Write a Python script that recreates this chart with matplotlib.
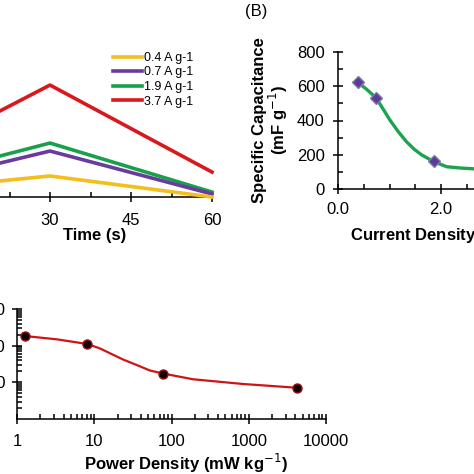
import matplotlib
matplotlib.use("Agg")
import matplotlib.pyplot as plt
from matplotlib.ticker import MultipleLocator, LogLocator, NullFormatter, FixedLocator, NullLocator

plt.rcParams['font.family'] = ['Liberation Sans', 'DejaVu Sans']
plt.rcParams['axes.linewidth'] = 1.1

# ---------------- data ----------------
# Panel A: galvanostatic charge/discharge
time_s = [0, 30, 60]
gcd_labels = ['0.4 A g-1', '0.7 A g-1', '1.9 A g-1', '3.7 A g-1']
v_04 = [0.034, 0.145, 0.0]
v_07 = [0.048, 0.317, 0.021]
v_19 = [0.083, 0.372, 0.034]
v_37 = [0.193, 0.772, 0.172]
gcd_colors = ['#F2BF1D', '#6A3B9E', '#18A04C', '#D9181E']

# Panel B: specific capacitance vs current density
cd_points = [0.38, 0.74, 1.86, 3.7]
cap_points = [624, 532, 165, 112]
cd_curve = [0.38, 0.56, 0.74, 0.88, 1.01, 1.17, 1.33, 1.48, 1.63, 1.86, 2.11, 2.40, 2.63, 3.00, 3.70]
cap_curve = [624, 581, 532, 465, 402, 335, 276, 232, 198, 160, 130, 122, 118, 114, 112]

# Panel C: Ragone plot
pd_points = [1.27, 8.13, 77.6, 4250]
ed_points = [183, 111, 17.4, 7.1]
pd_curve = [1.27, 3.27, 8.13, 11.9, 16.0, 23.6, 35.4, 52.7, 77.6, 191, 851, 4250]
ed_curve = [183, 149, 111, 83.7, 62, 41.9, 29.7, 21.0, 17.4, 12.1, 9.0, 7.1]

W = H = 474.0
fig = plt.figure(figsize=(4.74, 4.74), dpi=100)

def box(l, r, t, b):
    return [l / W, 1 - b / H, (r - l) / W, (b - t) / H]

def style(ax):
    for s in ('top', 'right'):
        ax.spines[s].set_visible(False)
    ax.tick_params(which='major', direction='inout', length=7, width=1.1, labelsize=12)
    ax.tick_params(which='minor', direction='in', length=3.5, width=1.1)

# ---------------- Panel A ----------------
axA = fig.add_axes(box(-112, 212, 52, 197))
style(axA)
series = [v_04, v_07, v_19, v_37]
zs = [5, 4, 3, 2]
handles = []
for vals, lab, c, z in zip(series, gcd_labels, gcd_colors, zs):
    h, = axA.plot(time_s, vals, color=c, lw=2.6, label=lab, zorder=z, clip_on=False)
    handles.append(h)
axA.set_xlim(0, 60)
axA.set_ylim(0, 1.0)
axA.xaxis.set_major_locator(FixedLocator([30, 45, 60]))
axA.xaxis.set_minor_locator(FixedLocator([22.5, 37.5, 52.5]))
axA.tick_params(axis='x', which='major', pad=8)
axA.tick_params(axis='y', labelleft=False)
axA.yaxis.set_major_locator(NullLocator())
axA.set_xlabel('Time (s)', fontsize=12, fontweight='bold')
axA.xaxis.set_label_coords(0.639, -0.214)
leg = axA.legend(handles=handles, loc='upper left', bbox_to_anchor=(113 / W, 1 - 52 / H),
                 bbox_transform=fig.transFigure, frameon=False, fontsize=9,
                 handlelength=2.3, handletextpad=0.2, labelspacing=0.2,
                 borderpad=0, borderaxespad=0)

# ---------------- Panel B ----------------
axB = fig.add_axes(box(338, 544, 52, 189))
style(axB)
axB.plot(cd_curve, cap_curve, color='#1BA34F', lw=2.4, zorder=2)
axB.plot(cd_points, cap_points, linestyle='none', marker='D', markersize=6.5,
         markerfacecolor='#5E3A99', markeredgecolor='#7C7CA6', markeredgewidth=1.0, zorder=3)
axB.set_xlim(0, 4.0)
axB.set_ylim(0, 800)
axB.xaxis.set_major_locator(FixedLocator([0.0, 2.0]))
axB.xaxis.set_minor_locator(MultipleLocator(0.5))
axB.yaxis.set_major_locator(MultipleLocator(200))
axB.yaxis.set_minor_locator(MultipleLocator(100))
axB.xaxis.set_major_formatter(matplotlib.ticker.FormatStrFormatter('%.1f'))
axB.tick_params(axis='both', which='major', pad=6)
axB.set_ylabel('Specific Capacitance\n(mF g$^{-1}$)', fontsize=12, fontweight='bold',
               linespacing=1.0)
axB.yaxis.label.set_va('center')
axB.yaxis.set_label_coords((271 - 338) / 206, 0.5)
axB.set_xlabel('Current Density (A g$^{-1}$)', fontsize=12, fontweight='bold')
axB.xaxis.label.set_ha('left')
axB.xaxis.set_label_coords((350 - 338) / 206, -0.25)

fig.text(245 / W, 1 - 4 / H, '(B)', fontsize=12, ha='left', va='top')

# ---------------- Panel C ----------------
axC = fig.add_axes(box(17, 326, 309, 419))
style(axC)
axC.set_xscale('log')
axC.set_yscale('log')
axC.plot(pd_curve, ed_curve, color='#D01414', lw=1.6, zorder=2)
axC.plot(pd_points, ed_points, linestyle='none', marker='o', markersize=6.5,
         markerfacecolor='#0A0000', markeredgecolor='#A01010', markeredgewidth=1.0, zorder=3)
axC.set_xlim(1, 10000)
axC.set_ylim(1, 1000)
axC.xaxis.set_major_locator(FixedLocator([1, 10, 100, 1000, 10000]))
axC.xaxis.set_major_formatter(matplotlib.ticker.FixedFormatter(['1', '10', '100', '1000', '10000']))
axC.xaxis.set_minor_locator(LogLocator(base=10, subs=range(2, 10), numticks=20))
axC.xaxis.set_minor_formatter(NullFormatter())
axC.yaxis.set_major_locator(FixedLocator([10, 100, 1000]))
axC.yaxis.set_major_formatter(matplotlib.ticker.FixedFormatter(['10', '100', '1000']))
axC.yaxis.set_minor_locator(LogLocator(base=10, subs=range(2, 10), numticks=20))
axC.yaxis.set_minor_formatter(NullFormatter())
axC.tick_params(axis='x', which='major', pad=7.5)
axC.tick_params(axis='y', which='major', pad=4.5)
axC.set_xlabel('Power Density (mW kg$^{-1}$)', fontsize=12, fontweight='bold')
axC.xaxis.set_label_coords(0.545, -0.295)

fig.savefig('out.png', dpi=100)
